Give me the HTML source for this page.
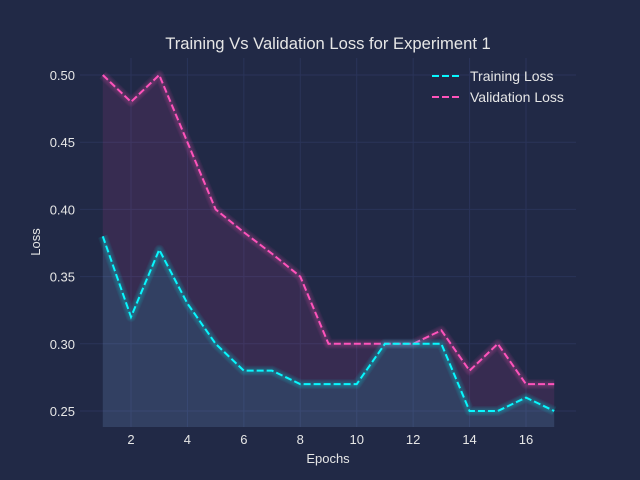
<!DOCTYPE html>
<html><head><meta charset="utf-8"><style>
body{margin:0;background:#212946;}
svg{display:block;font-family:"Liberation Sans",sans-serif;}
</style></head><body>
<svg id="chart" width="640" height="480">
<rect width="640" height="480" fill="#212946"/>
<g id="grid"></g>
<g id="fills"></g>
<g id="lines"></g>
<g id="ticks"></g>
<text x="328" y="49" text-anchor="middle" font-size="16.6" fill="#e6e6e6">Training Vs Validation Loss for Experiment 1</text>
<text x="328" y="463" text-anchor="middle" font-size="13" fill="#e6e6e6">Epochs</text>
<text x="40" y="242" text-anchor="middle" font-size="13" fill="#e6e6e6" transform="rotate(-90 40 242)">Loss</text>
<g>
<g><line x1="432" y1="76" x2="462" y2="76" stroke="#08F7FE" stroke-width="2" stroke-dasharray="7,3"/><text x="470" y="81" font-size="14" fill="#e6e6e6">Training Loss</text></g>
<g><line x1="432" y1="97" x2="462" y2="97" stroke="#FE53BB" stroke-width="2" stroke-dasharray="7,3"/><text x="470" y="102" font-size="14" fill="#e6e6e6">Validation Loss</text></g>
</g>
</svg>
<script>
const epochs=[1,2,3,4,5,6,7,8,9,10,11,12,13,14,15,16,17];
const trainLoss=[0.38,0.32,0.37,0.33,0.30,0.28,0.28,0.27,0.27,0.27,0.30,0.30,0.30,0.25,0.25,0.26,0.25];
const valLoss=[0.50,0.48,0.50,0.45,0.40,0.383,0.367,0.35,0.30,0.30,0.30,0.30,0.31,0.28,0.30,0.27,0.27];
const xTicks=[2,4,6,8,10,12,14,16];
const yTicks=[0.25,0.30,0.35,0.40,0.45,0.50];
const NS="http://www.w3.org/2000/svg";
const X=v=>131+(v-2)*(395/14);
const Y=v=>411-(v-0.25)*(336/0.25);
const plotBottom=427, plotLeft=80, plotRight=576, plotTop=58;
function mk(t,a,p){const e=document.createElementNS(NS,t);for(const k in a)e.setAttribute(k,a[k]);p.appendChild(e);return e;}
const grid=document.getElementById('grid'),ticks=document.getElementById('ticks');
xTicks.forEach(t=>{
 const l=mk('line',{x1:X(t),x2:X(t),y1:plotTop,y2:plotBottom,stroke:'#2A3459','stroke-width':1},grid);
 
 
 const tx=mk('text',{x:X(t),y:plotBottom+17,'text-anchor':'middle','font-size':13,fill:'#e6e6e6'},ticks);
 tx.textContent=t;
 
 
});
yTicks.forEach(t=>{
 const l=mk('line',{x1:plotLeft,x2:plotRight,y1:Y(t),y2:Y(t),stroke:'#2A3459','stroke-width':1},grid);
 
 
 const tx=mk('text',{x:plotLeft-5,y:Y(t)+5,'text-anchor':'end','font-size':13,fill:'#e6e6e6'},ticks);
 tx.textContent=t.toFixed(2);
 
 
});
function pts(d){return epochs.map((e,i)=>X(e)+','+Y(d[i])).join(' ');}
const fills=document.getElementById('fills'),lines=document.getElementById('lines');
[[valLoss,'#FE53BB','validation'],[trainLoss,'#08F7FE','training']].forEach(([d,c,n])=>{
 const p=mk('polygon',{points:pts(d)+' '+X(epochs[epochs.length-1])+','+plotBottom+' '+X(epochs[0])+','+plotBottom,fill:c,'fill-opacity':0.1},fills);
 
 
});
[[valLoss,'#FE53BB','validation'],[trainLoss,'#08F7FE','training']].forEach(([d,c,n])=>{
 [10,8,6,4].forEach(w=>{mk('polyline',{points:pts(d),fill:'none',stroke:c,'stroke-width':w,'stroke-opacity':0.06,'stroke-linejoin':'round'},lines);});
 const l=mk('polyline',{points:pts(d),fill:'none',stroke:c,'stroke-width':2,'stroke-dasharray':'7,3'},lines);
 
 
});
</script>
</body></html>
